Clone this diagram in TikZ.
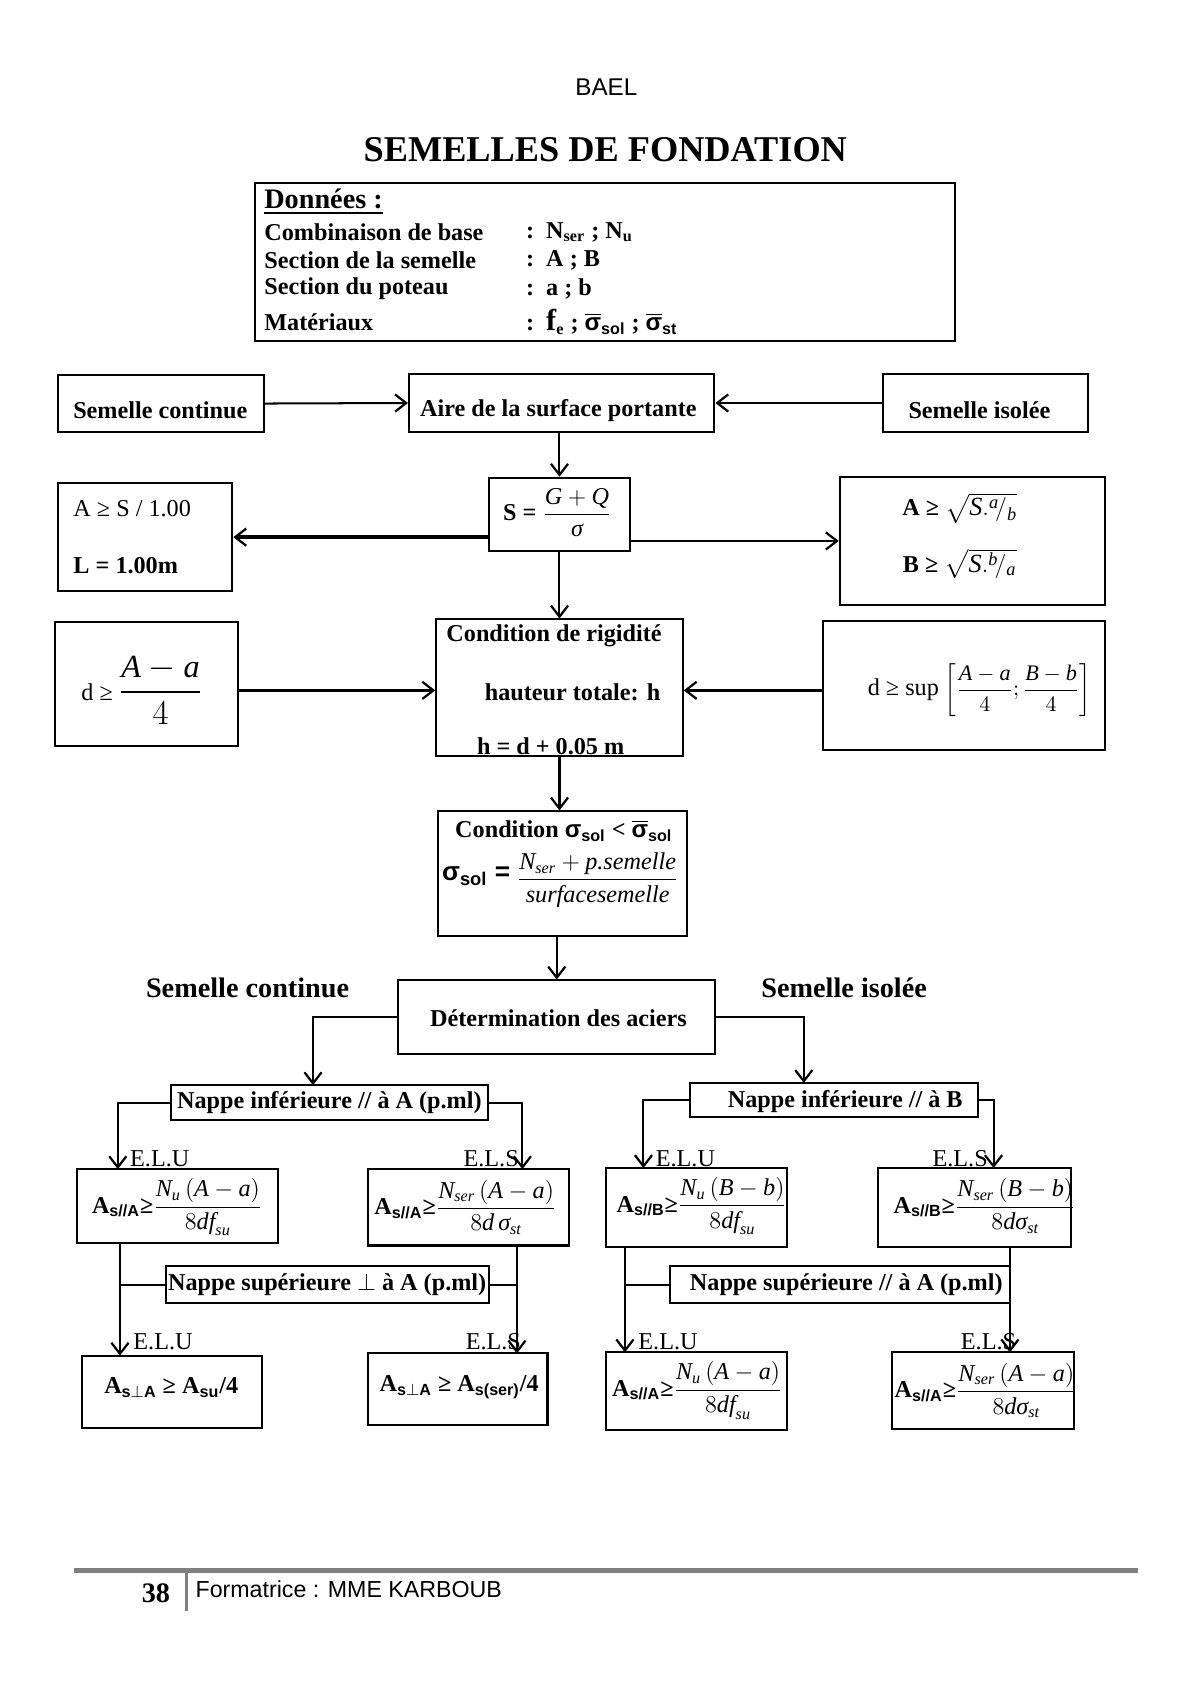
\documentclass[tikz,border=0pt]{standalone}
\usepackage{fontspec}
\usepackage{amsmath}
\setmainfont{Liberation Serif}
\newfontfamily\sansf{Liberation Sans}
\usetikzlibrary{arrows.meta,fit}
\newcommand\ov[1]{$\overline{\hbox{#1}}$}
\newcommand\mi[1]{\textnormal{\itshape #1}}
\begin{document}
\begin{tikzpicture}[x=0.5409pt,y=-0.5409pt,
  box/.style={draw, line width=1pt, inner sep=0pt},
  txt/.style={font=\fontsize{12}{14}\selectfont\bfseries, inner sep=0pt},
  rtxt/.style={font=\fontsize{12}{14}\selectfont, inner sep=0pt},
  lbl/.style={font=\fontsize{14}{16}\selectfont\bfseries, inner sep=0pt},
  arr/.style={-{Straight Barb[length=5.5pt,width=8.5pt,line width=1.1pt]}, line width=1pt},
  ln/.style={line width=1pt}]
\useasboundingbox (0,0) rectangle (1100,1556);

% header
\node[font=\sansf\fontsize{12}{14}\selectfont, inner sep=0pt] (bael) at (556,80) {BAEL};
\node[font=\fontsize{18}{20}\selectfont\bfseries, inner sep=0pt] (title) at (555,137) {SEMELLES DE FONDATION};

% donnees
\node[box, fit={(234,168)(876,313)}] (don) {};
\node[font=\fontsize{14}{16}\selectfont\bfseries, inner sep=0pt, anchor=west] (donT) at (242,185) {\underline{Données :}};
\node[txt, anchor=west] (c1) at (242,213) {Combinaison de base};
\node[txt, anchor=west] (v1) at (482,213) {:\ \ N\textsubscript{ser} ; N\textsubscript{u}};
\node[txt, anchor=west] (c2) at (242,239) {Section de la semelle};
\node[txt, anchor=west] (v2) at (482,239) {:\ \ A ; B};
\node[txt, anchor=west] (c3) at (242,265) {Section du poteau};
\node[txt, anchor=west] (v3) at (482,265) {:\ \ a ; b};
\node[txt, anchor=west] (c4) at (242,295) {Matériaux};
\node[txt, anchor=west] (v4) at (482,295) {:\ \ {\fontsize{15}{15}\selectfont f}\textsubscript{e} ;\ {\sansf\ov{σ}\textsubscript{sol}} ; {\sansf\ov{σ}\textsubscript{st}}};

% first row
\node[box, fit={(53,344)(242,396)}] (sc) {};
\node[txt] (scT) at (147,376) {Semelle continue};
\node[box, fit={(375,343)(655,396)}] (aire) {};
\node[txt] (aireT) at (512,376) {Aire de la surface portante};
\node[box, fit={(810,343)(998,396)}] (si) {};
\node[txt] (siT) at (898,376) {Semelle isolée};

% second row
\node[box, fit={(448,438)(578,505)}] (S) {};
\node[txt] (ST) at (511,470) {S = $\dfrac{\mi{G}+\mi{Q}}{\mi{σ}}$};
\node[box, fit={(53,443)(213,542)}] (la) {};
\node[rtxt, anchor=west] (laT1) at (67,466) {A ≥ S / 1.00};
\node[txt, anchor=west] (laT2) at (67,519) {L = 1.00m};
\node[box, fit={(770,437)(1013,555)}] (ra) {};
\node[txt] (raT1) at (880,466) {A ≥ {\fontsize{13}{15}\selectfont$\sqrt{\mi{S}.{}^{\mi{a}}\!/_{\mi{b}}}$}};
\node[txt] (raT2) at (880,517) {B ≥ {\fontsize{13}{15}\selectfont$\sqrt{\mi{S}.{}^{\mi{b}}\!/_{\mi{a}}}$}};

% third row
\node[box, fit={(400,568)(626,693)}] (rig) {};
\node[txt, anchor=west] (rigT1) at (409,583) {Condition de rigidité};
\node[txt] (rigT2) at (525,635) {hauteur totale: h};
\node[txt, anchor=west] (rigT3) at (437,684) {h = d + 0.05 m};
\node[box, fit={(50,570)(218,684)}] (ld) {};
\node[rtxt] (ldT) at (130,633) {d ≥ {\fontsize{16}{18}\selectfont$\dfrac{\mi{A}-\mi{a}}{4}$}};
\node[box, fit={(755,569)(1013,688)}] (rd) {};
\node[rtxt] (rdT) at (898,633) {d ≥ sup {\fontsize{11}{13}\selectfont$\left[\dfrac{\mi{A}-\mi{a}}{4};\dfrac{\mi{B}-\mi{b}}{4}\right]$}};

% sigma box
\node[box, fit={(402,744)(630,858)}] (sig) {};
\node[txt] (sigT1) at (517,762) {Condition {\sansf σ\textsubscript{sol}} < {\sansf\ov{σ}\textsubscript{sol}}};
\node[txt, anchor=west] (sigT2) at (405,803) {\sansf\fontsize{13}{15}\selectfont σ\textsubscript{sol} =};
\node[rtxt] (sigT3) at (548,807) {$\dfrac{\mi{N}_{\mi{ser}}+\mi{p.semelle}}{\mi{surfacesemelle}}$};

% determination
\node[box, fit={(365,899)(656,966)}] (det) {};
\node[txt] (detT) at (512,934) {Détermination des aciers};
\node[lbl] (lc) at (227,906) {Semelle continue};
\node[lbl] (li) at (774,906) {Semelle isolée};

% nappes inferieures
\node[box, fit={(157,995)(447,1027)}] (nA) {};
\node[txt] (nAT) at (302,1011) {Nappe inférieure // à A (p.ml)};
\node[box, fit={(633,993)(897,1024)}] (nB) {};
\node[txt] (nBT) at (775,1010) {Nappe inférieure // à B};

% row of As boxes
\node[box, fit={(71,1072)(255,1140)}] (b1) {};
\node[txt, anchor=west] (b1T) at (84,1107) {A\textsubscript{\sansf s//A}≥$\dfrac{\mi{N}_{\mi{u}}\left(\mi{A}-\mi{a}\right)}{8\mi{df}_{\mi{su}}}$};
\node[box, fit={(337,1072)(522,1142)}] (b2) {};
\node[txt, anchor=west] (b2T) at (343,1107) {A\textsubscript{\sansf s//A}≥$\dfrac{\mi{N}_{\mi{ser}}\left(\mi{A}-\mi{a}\right)}{8\mi{d}\,\mi{σ}_{\mi{st}}}$};
\node[box, fit={(556,1071)(722,1143)}] (b3) {};
\node[txt, anchor=west] (b3T) at (565,1106) {A\textsubscript{\sansf s//B}≥$\dfrac{\mi{N}_{\mi{u}}\left(\mi{B}-\mi{b}\right)}{8\mi{df}_{\mi{su}}}$};
\node[box, fit={(805,1071)(982,1143)}] (b4) {};
\node[txt, anchor=west] (b4T) at (819,1106) {A\textsubscript{\sansf s//B}≥$\dfrac{\mi{N}_{\mi{ser}}\left(\mi{B}-\mi{b}\right)}{8\mi{d}\mi{σ}_{\mi{st}}}$};

% nappes superieures
\node[box, fit={(152,1161)(448,1195)}] (nsA) {};
\node[txt] (nsAT) at (300,1178) {Nappe supérieure $\perp$ à A (p.ml)};
\node[box, fit={(614,1161)(926,1195)}] (nsB) {};
\node[txt] (nsBT) at (776,1178) {Nappe supérieure // à A (p.ml)};

% last row
\node[box, fit={(75,1243)(240,1309)}] (b5) {};
\node[txt] (b5T) at (157,1272) {A\textsubscript{\sansf s$\perp$A} ≥ A\textsubscript{\sansf su}/4};
\node[box, fit={(337,1241)(502,1307)}] (b6) {};
\node[txt] (b6T) at (421,1272) {A\textsubscript{\sansf s$\perp$A} ≥ A\textsubscript{\sansf s(ser)}/4};
\node[box, fit={(556,1240)(722,1311)}] (b7) {};
\node[txt, anchor=west] (b7T) at (561,1275) {A\textsubscript{\sansf s//A}≥$\dfrac{\mi{N}_{\mi{u}}\left(\mi{A}-\mi{a}\right)}{8\mi{df}_{\mi{su}}}$};
\node[box, fit={(818,1240)(985,1310)}] (b8) {};
\node[txt, anchor=west] (b8T) at (820,1275) {A\textsubscript{\sansf s//A}≥$\dfrac{\mi{N}_{\mi{ser}}\left(\mi{A}-\mi{a}\right)}{8\mi{d}\mi{σ}_{\mi{st}}}$};

% labels
\node[rtxt, anchor=west] (l1) at (119,1062) {E.L.U};
\node[rtxt, anchor=east] (l2) at (476,1062) {E.L.S};
\node[rtxt, anchor=west] (l3) at (601,1062) {E.L.U};
\node[rtxt, anchor=east] (l4) at (906,1062) {E.L.S};
\node[rtxt, anchor=west] (l5) at (122,1230) {E.L.U};
\node[rtxt, anchor=east] (l6) at (478,1230) {E.L.S};
\node[rtxt, anchor=west] (l7) at (585,1230) {E.L.U};
\node[rtxt, anchor=east] (l8) at (932,1230) {E.L.S};

% coordinates
\coordinate (nAin) at (287,995);
\coordinate (nBin) at (737,993);
\coordinate (b1in) at (108,1072);
\coordinate (b2in) at (479,1072);
\coordinate (b3in) at (590,1071);
\coordinate (b4in) at (911,1071);
\coordinate (b5in) at (110,1243);
\coordinate (b6in) at (474,1241);
\coordinate (b7in) at (573,1240);
\coordinate (b8in) at (926,1240);
\coordinate (j1) at (110,1178);
\coordinate (j2) at (474,1178);
\coordinate (j3) at (573,1178);

% connectors
\draw[arr] (sc.east) -- (aire.west);
\draw[arr] (si.west) -- (aire.east);
\draw[arr] (aire.south -| S.north) -- (S.north);
\draw[arr, line width=2.2pt] (S.west |- la.east) -- (la.east);
\draw[arr, line width=1.2pt] (S.east |- ra.west) -- (ra.west);
\draw[arr] (S.south) -- (S.south |- rig.north);
\draw[arr, line width=1.3pt] (ld.east |- 0,633) -- (rig.west |- 0,633);
\draw[arr, line width=1.3pt] (rd.west |- 0,633) -- (rig.east |- 0,633);
\draw[arr, line width=1.6pt] (rig.south) -- (rig.south |- sig.north);
\draw[arr] (sig.south -| det.north) -- (det.north);
\draw[arr] (det.west) -| (nAin);
\draw[arr] (det.east) -| (nBin);
\draw[arr] (nA.west) -| (b1in);
\draw[arr] (nA.east) -| (b2in);
\draw[arr] (nB.west) -| (b3in);
\draw[arr] (nB.east) -| (b4in);
\draw[arr] (b1.south -| b5in) -- (b5in);
\draw[arr] (b2.south -| b6in) -- (b6in);
\draw[arr] (b3.south -| b7in) -- (b7in);
\draw[arr] (b4.south -| b8in) -- (b8in);
\draw[ln] (j1) -- (nsA.west);
\draw[ln] (nsA.east) -- (j2);
\draw[ln] (j3) -- (nsB.west);

% footer
\coordinate (f1) at (68,1440);
\coordinate (f2) at (1043,1440);
\coordinate (f3) at (171,1440);
\coordinate (f4) at (171,1477);
\draw[line width=2.8pt, color=gray] (f1) -- (f2);
\draw[line width=1.5pt, color=gray] (f3) -- (f4);
\node[font=\fontsize{14}{16}\selectfont\bfseries, inner sep=0pt] (pg) at (143,1461) {38};
\node[font=\sansf\fontsize{11.5}{13}\selectfont, inner sep=0pt, anchor=west] (fm) at (179,1457) {Formatrice : MME KARBOUB};
\end{tikzpicture}
\end{document}
